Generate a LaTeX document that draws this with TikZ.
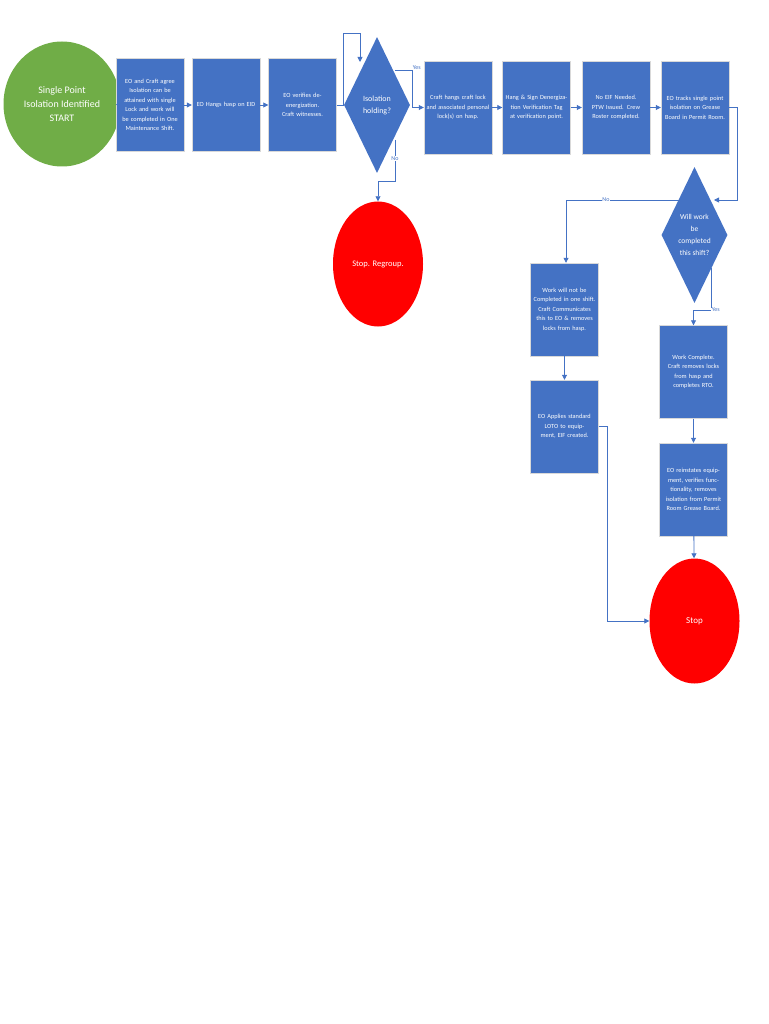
\documentclass[tikz,border=0pt]{standalone}
\usepackage{fontspec}
\setmainfont{Carlito}
\usetikzlibrary{shapes.geometric,arrows.meta}
\definecolor{flowblue}{HTML}{4472C4}
\definecolor{flowgreen}{HTML}{70AD47}
\definecolor{flowred}{HTML}{FF0000}
\tikzset{
  procbox/.style={rectangle, fill=flowblue, draw=black!15, text=white, minimum width=68pt, minimum height=93pt, text width=64pt, align=center, inner sep=1pt, font=\fontsize{6.3}{9.5}\selectfont},
  decbox/.style={diamond, fill=flowblue, text=white, minimum width=66pt, minimum height=136pt, inner sep=0pt, align=center, aspect=0.5},
  termbox/.style={ellipse, text=white, minimum width=90pt, minimum height=125pt, align=center},
  flow/.style={draw=flowblue, line width=0.8pt, -{Triangle[length=5pt,width=5pt]}},
  lbl/.style={fill=white, text=flowblue, font=\fontsize{6}{6}\selectfont, inner sep=0.5pt}
}
\begin{document}
\begin{tikzpicture}[x=1pt, y=-1pt]
    \useasboundingbox (0,0) rectangle (768,1024);

    \node[termbox, fill=flowgreen, font=\fontsize{10}{14}\selectfont] (start) at (62,104) {Single Point\\Isolation Identified\\START};
    \node[procbox] (agree) at (150,105) {EO and Craft agree Isolation can be attained with single Lock and work will be completed in One Maintenance Shift.};
    \node[procbox] (hasp) at (226,105) {EO Hangs hasp on EID};
    \node[procbox] (verify) at (302.5,105) {EO verifies de-energization.\ \ Craft witnesses.};
    \node[decbox, font=\fontsize{8}{12}\selectfont] (holding) at (377,105) {Isolation\\holding?};
    \node[termbox, fill=flowred, font=\fontsize{8.5}{12}\selectfont] (regroup) at (378,264) {Stop. Regroup.};

    \node[procbox] (craftlock) at (458,107.5) {Craft hangs craft lock and associated personal lock(s) on hasp.};
    \node[procbox] (tag) at (536.5,107.5) {Hang \& Sign Denergization Verification Tag at verification point.};
    \node[procbox] (ptw) at (616,107.5) {No EIF Needed. PTW Issued. Crew Roster completed.};
    \node[procbox] (track) at (695,107.5) {EO tracks single point isolation on Grease Board in Permit Room.};

    \node[decbox, font=\fontsize{7.5}{12}\selectfont] (shift) at (694.5,235) {Will work\\be\\completed\\this shift?};

    \node[procbox] (notdone) at (564.5,309.5) {Work will not be Completed in one shift. Craft Communicates this to EO \& removes locks from hasp.};
    \node[procbox] (loto) at (564.5,426.5) {EO Applies standard LOTO to equipment, EIF created.};
    \node[procbox] (done) at (693.5,372) {Work Complete.\ \ Craft removes locks from hasp and completes RTO.};
    \node[procbox] (reinstate) at (693.5,489.5) {EO reinstates equipment, verifies functionality, removes isolation from Permit Room Grease Board.};
    \node[termbox, fill=flowred, font=\fontsize{9}{12}\selectfont] (stop) at (694.5,621) {Stop};

    % top row
    \draw[flow] (start) -- (agree);
    \draw[flow] (agree) -- (hasp);
    \draw[flow] (hasp) -- (verify);
    \draw[flow] (verify.east) -- ++(7,0) |- (360,33) -- (360,62);
    \draw[flow] (395,70) -- (412,70) node[lbl, pos=1, anchor=south west] {Yes} |- (craftlock.west);
    \draw[flow] (395,140) -- (395,181) node[lbl, pos=0.45] {No} -| (regroup.north);
    \draw[flow] (craftlock) -- (tag);
    \draw[flow] (tag) -- (ptw);
    \draw[flow] (ptw) -- (track);
    \draw[flow] (track.east) -- ++(8,0) |- (714,200);

    % decision on the shift
    \draw[flow] (680,200) -- (566,200) node[lbl, pos=0.65] {No} -- (notdone.north -| 566,0);
    \draw[flow] (711,268) -- (711,310) node[lbl, pos=1, anchor=west] {Yes} -| (done.north);
    \draw[flow] (notdone) -- (loto);
    \draw[flow] (loto.east) -- ++(9,0) |- (stop.west);
    \draw[flow] (done) -- (reinstate);
    \draw[flow] (reinstate) -- (stop);
\end{tikzpicture}
\end{document}
